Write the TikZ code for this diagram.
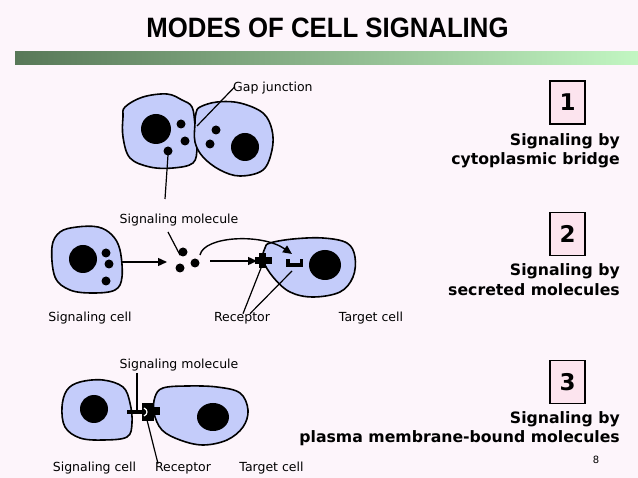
\documentclass[tikz,border=0pt]{standalone}
\usepackage{graphicx}
\usepackage{fontspec}
\setmainfont{DejaVu Sans}
\newfontfamily\titlefont{Liberation Sans}
\usetikzlibrary{arrows.meta}
\definecolor{bg}{RGB}{253,245,251}
\definecolor{cellblue}{RGB}{196,204,250}
\definecolor{boxpink}{RGB}{252,228,238}
\definecolor{bardark}{RGB}{88,120,88}
\definecolor{barlight}{RGB}{194,246,194}
\tikzset{
  cell/.style={draw=black, line width=1.6pt, fill=cellblue, line join=round},
  lbl/.style={font=\fontsize{12.5}{14}\selectfont, inner sep=0pt, anchor=base},
  ptr/.style={line width=1.2pt},
  arr/.style={line width=1.4pt, -{Triangle[length=9pt,width=8pt]}},
  numbox/.style={draw=black, line width=1.2pt, fill=boxpink, minimum width=35pt, minimum height=43pt, inner sep=0pt, font=\bfseries\fontsize{23}{26}\selectfont},
  desc/.style={font=\bfseries\fontsize{15.7}{18}\selectfont, anchor=base east, inner sep=0pt},
}
\begin{document}
\begin{tikzpicture}[x=1pt,y=-1pt]
\useasboundingbox (0,0) rectangle (638,478);
\fill[bg] (0,0) rectangle (638,478);
% title and bar
\node (title) at (327.5,28) {\titlefont\bfseries\fontsize{28}{30}\selectfont\scalebox{0.92}[1]{MODES OF CELL SIGNALING}};
\shade[left color=bardark, right color=barlight] (15,52) rectangle (638,65);

% ---------- panel 1 ----------
\draw[cell] plot[smooth cycle, tension=0.6] coordinates {(125,107) (143,97) (167,94) (182,100) (192,107) (195,125) (197,147) (193,163) (173,168) (150,167) (130,158) (123,137) (123,117)};
\draw[cell] plot[smooth cycle, tension=0.6] coordinates {(200,107) (217,102) (240,103) (263,113) (272,130) (272,150) (263,170) (240,176) (220,170) (203,157) (195,142) (195,123) (196,113)};
\fill (156,129) circle (15);
\fill (245,147) circle (14);
\coordinate (d1a) at (181,124); \coordinate (d1b) at (185,141); \coordinate (d1c) at (168,151);
\coordinate (d1d) at (216,130); \coordinate (d1e) at (210,144);
\foreach \c in {d1a,d1b,d1c,d1d,d1e} \fill (\c) circle (4.5);
\node[lbl, anchor=base west] (gap) at (233,92) {Gap junction};
\coordinate (gj) at (197,126);
\draw[ptr] (gj) -- ([xshift=2pt,yshift=2pt]gap.west);
\node[lbl] (sm) at (179,224) {Signaling molecule};
\coordinate (smtop) at (165,199);
\draw[ptr] ([yshift=-4pt]d1c) -- (smtop);
\node[numbox] (b1) at (567.5,102.5) {1};
\node[desc] (t1a) at (620,146) {Signaling by};
\node[desc] (t1b) at (620,165) {cytoplasmic bridge};

% ---------- panel 2 ----------
\draw[cell] plot[smooth cycle, tension=0.6] coordinates {(52,247) (60,232) (77,227) (98,227) (112,235) (120,250) (122,277) (115,290) (93,293) (70,290) (55,277)};
\fill (83,259) circle (14);
\foreach \p in {(106,253),(109,264),(106,281)} \fill \p circle (4.5);
\draw[cell] plot[smooth cycle, tension=0.6] coordinates {(265,248) (270,243) (293,239) (323,238) (347,243) (355,257) (353,277) (340,292) (313,297) (290,292) (273,277) (263,260)};
\fill (325,265) ellipse (16 and 15);
\coordinate (m2a) at (183,252); \coordinate (m2b) at (180,268); \coordinate (m2c) at (195,263);
\foreach \c in {m2a,m2b,m2c} \fill (\c) circle (4.5);
% receptors
\fill (259,253) rectangle (266,268);
\fill (255,257) rectangle (272,264);
\fill (286,259) rectangle (289.5,267);
\fill (286,263.5) rectangle (303,267);
\fill (299.5,259) rectangle (303,267);
\coordinate (rc1) at (261,268); \coordinate (rc2) at (292,271);
\coordinate (cellout) at (121,262); \coordinate (cellin) at (167,262);
\draw[arr] (cellout) -- (cellin);
\coordinate (molout) at (210,261); \coordinate (recin) at (257,261);
\draw[arr] (molout) -- (recin);
\coordinate (curvs) at (200,255); \coordinate (curve) at (292,254);
\draw[arr] (curvs) .. controls (204,236) and (262,233) .. (curve);
\coordinate (smb) at (168,232);
\draw[ptr] (smb) -- ([xshift=-3pt,yshift=-3pt]m2a);
\node[lbl] (sc2) at (90,322) {Signaling cell};
\node[lbl] (rec2) at (242,322) {Receptor};
\node[lbl] (tc2) at (371,322) {Target cell};
\draw[ptr] ([xshift=1pt,yshift=-1pt]rec2.north) -- (rc1);
\draw[ptr] ([xshift=8pt,yshift=-1pt]rec2.north) -- (rc2);
\node[numbox] (b2) at (567.5,234) {2};
\node[desc] (t2a) at (620,276) {Signaling by};
\node[desc] (t2b) at (620,296) {secreted molecules};

% ---------- panel 3 ----------
\draw[cell] plot[smooth cycle, tension=0.6] coordinates {(62,407) (67,390) (80,382) (103,380) (123,387) (130,403) (132,423) (127,437) (103,440) (80,438) (65,427)};
\fill (94,409) circle (14);
\draw[cell] plot[smooth cycle, tension=0.6] coordinates {(155,397) (163,388) (187,386) (217,387) (240,393) (248,410) (243,427) (227,440) (203,445) (180,440) (162,430) (154,413)};
\fill (213,417) ellipse (16 and 14);
\fill (142,403) rectangle (154,421);
\fill (154,407) rectangle (160,415);
\draw[white, line width=1.2pt] (144,408) .. controls (148,410) and (148,414) .. (144,416);
\fill (127,410) rectangle (143,414);
\fill (143,412) circle (2.5);
\node[lbl] (sm3) at (179,369) {Signaling molecule};
\coordinate (mol3) at (137,410);
\draw[ptr] ([xshift=-42pt,yshift=-1pt]sm3.south) -- (mol3);
\coordinate (rec3pt) at (147,420);
\node[lbl] (sc3) at (94.5,472) {Signaling cell};
\node[lbl] (rec3) at (183,472) {Receptor};
\node[lbl] (tc3) at (271.5,472) {Target cell};
\draw[ptr] (rec3pt) -- ([xshift=-25pt,yshift=-1pt]rec3.north);
\node[numbox] (b3) at (567.5,382) {3};
\node[desc] (t3a) at (620,424) {Signaling by};
\node[desc] (t3b) at (620,443) {plasma membrane-bound molecules};
\node[font=\fontsize{10}{12}\selectfont] (pg) at (596,460) {8};
\end{tikzpicture}
\end{document}
